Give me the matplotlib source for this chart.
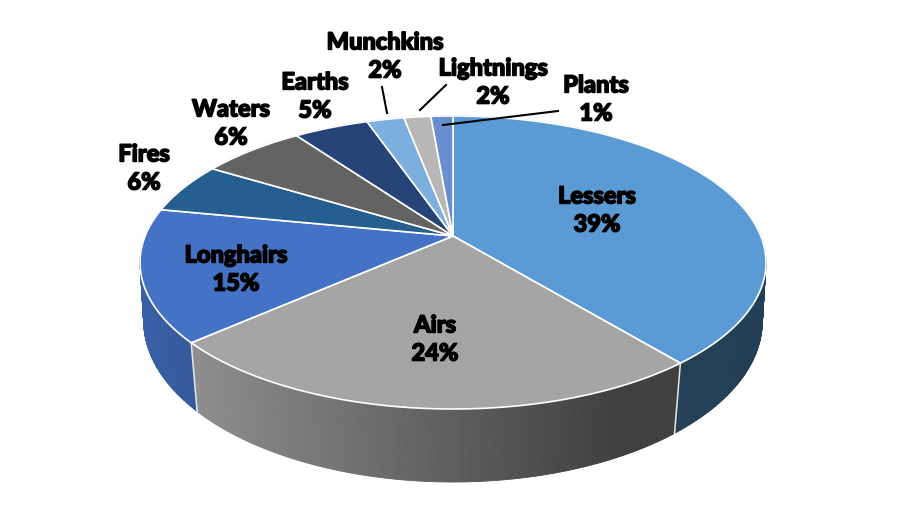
import numpy as np
import matplotlib
matplotlib.use("Agg")
import matplotlib.pyplot as plt
from matplotlib.patches import Polygon
from matplotlib import patheffects as pe
from matplotlib.colors import to_rgb

categories = ["Lessers", "Airs", "Longhairs", "Fires", "Waters", "Earths", "Munchkins", "Lightnings", "Plants"]
values = [39.0, 24.4, 14.6, 5.6, 6.4, 4.6, 2.3, 1.65, 1.35]
percent_labels = ["39%", "24%", "15%", "6%", "6%", "5%", "2%", "2%", "1%"]
colors = ["#5B9BD5", "#A5A5A5", "#4472C4", "#255E91", "#636363", "#264478", "#7CAFDD", "#B7B7B7", "#698ED0"]
wall_left = ["#233F56", "#8E8E8E", "#3A62A8", "#1A4266", "#464646", "#1B3055", "#587C9C", "#818181", "#4A6593"]
wall_right = ["#233F56", "#3F3F3F", "#34599C", "#1A4266", "#464646", "#1B3055", "#587C9C", "#818181", "#4A6593"]
label_pos = [(597, 210), (435, 339), (236, 269), (144, 168), (231, 123), (315, 96), (385, 56), (493, 82), (596, 99)]
leaders = {"Munchkins": ((382, 87), (387, 113)), "Lightnings": ((446, 85), (420, 110)), "Plants": ((558, 111), (443, 125))}

TOP = dict(cx=453.0, cy=236.0, a=307.8, b=141.7, k=0.1809)
BOT = dict(cx=453.0, cy=295.0, a=305.3, b=156.9, k=0.161)


def project(theta, ring, r=1.0):
    X, Y = r * np.sin(theta), r * np.cos(theta)
    d = 1 + ring["k"] * Y
    return ring["cx"] + ring["a"] * X / d, ring["cy"] - ring["b"] * Y / d


fig = plt.figure(figsize=(9.02, 5.27), dpi=100, facecolor="white")
ax = fig.add_axes([0, 0, 1, 1])
ax.set_xlim(0, 902)
ax.set_ylim(527, 0)
ax.axis("off")

fractions = np.array(values) / sum(values)
edges = np.concatenate([[0], np.cumsum(fractions)]) * 2 * np.pi

# side wall strips, back to front
strips = []
for i in range(len(values)):
    ts = np.linspace(edges[i], edges[i + 1], max(int(values[i] * 8), 4))
    xs = project(ts, TOP)[0]
    x0, x1 = xs.min(), xs.max()
    cl, cr = np.array(to_rgb(wall_left[i])), np.array(to_rgb(wall_right[i]))
    for t0, t1 in zip(ts[:-1], ts[1:]):
        xa, ya = project(t0, TOP)
        xb, yb = project(t1, TOP)
        xc, yc = project(t1, BOT)
        xd, yd = project(t0, BOT)
        f = np.clip(((xa + xb) / 2 - x0) / max(x1 - x0, 1) * 1.15, 0, 1)
        col = cl + (cr - cl) * f
        strips.append((ya + yb, [(xa, ya), (xb, yb), (xc, yc), (xd, yd)], col))
for _, pts, col in sorted(strips, key=lambda s: s[0]):
    ax.add_patch(Polygon(pts, closed=True, facecolor=col, edgecolor=col, lw=0.6, zorder=1))

# seams between visible walls
for th in edges[1:3]:
    xa, ya = project(th, TOP)
    xb, yb = project(th, BOT)
    ax.plot([xa, xb], [ya, yb], color="#E8E8E8", lw=1.1, zorder=2)

# top slices
for i in range(len(values)):
    ts = np.linspace(edges[i], edges[i + 1], max(int(values[i] * 8), 6))
    x, y = project(ts, TOP)
    pts = [(TOP["cx"], TOP["cy"])] + list(zip(x, y))
    ax.add_patch(Polygon(pts, closed=True, facecolor=colors[i], edgecolor="white", lw=1.2, joinstyle="round", zorder=3))

# leader lines
for a, b in leaders.values():
    ax.plot([a[0], b[0]], [a[1], b[1]], color="black", lw=1.5, zorder=4)

# labels
fx = [pe.withStroke(linewidth=1.1, foreground="black")]
for name, pct, (x, y) in zip(categories, percent_labels, label_pos):
    ax.text(x, y, f"{name}\n{pct}", ha="center", va="center", fontsize=17, fontweight="black",
            family="Lato", color="black", linespacing=1.27, path_effects=fx, zorder=5)

fig.savefig("out.png", dpi=100, facecolor="white")
